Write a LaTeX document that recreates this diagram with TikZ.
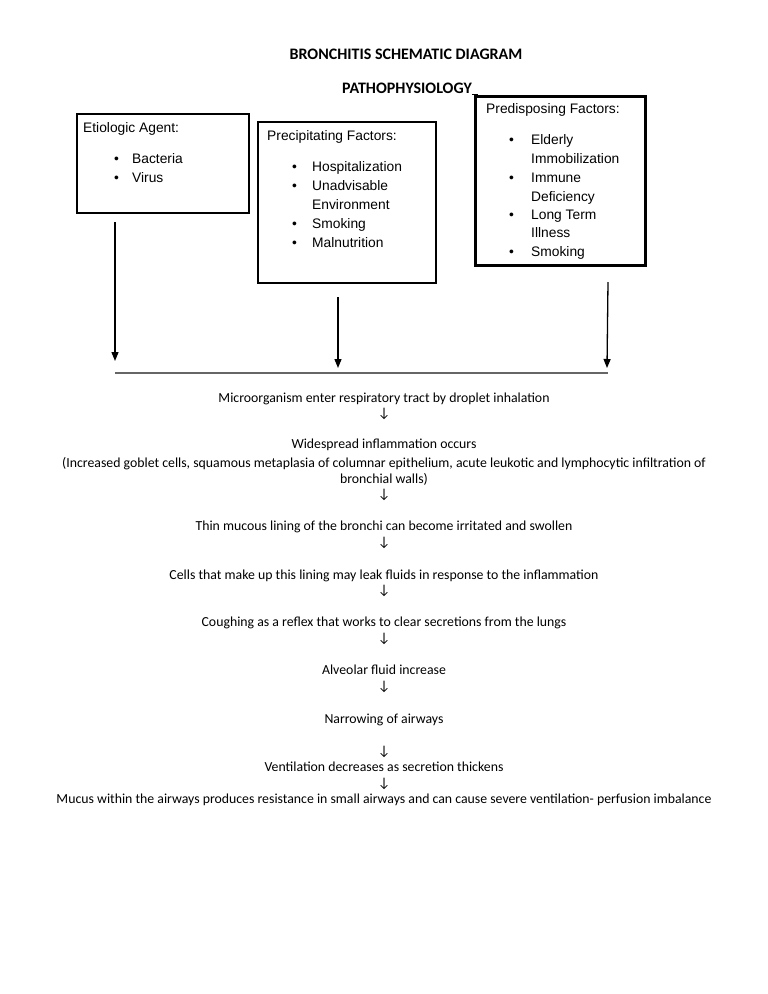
\documentclass[tikz,border=0pt]{standalone}
\usepackage{fontspec}
\setmainfont{Carlito}
\newfontfamily\arialf{Liberation Sans}
\usetikzlibrary{arrows.meta}
\begin{document}
\begin{tikzpicture}[x=1pt,y=-1pt,
  flow/.style={font=\fontsize{13.8}{16}\selectfont, anchor=base, inner sep=0pt},
  head/.style={font=\fontsize{16}{18}\selectfont\bfseries, anchor=base, inner sep=0pt},
  darr/.style={font=\fontsize{13.8}{16}\selectfont, anchor=base, inner sep=0pt},
  boxframe/.style={draw, line width=2pt, anchor=north west, inner sep=0pt},
  btxt/.style={font=\arialf\fontsize{13.8}{16}\selectfont, anchor=base west, inner sep=0pt},
  feed/.style={-{Triangle[length=9pt,width=7pt]}, line width=1.3pt},
  joinline/.style={line width=1.6pt, draw=black!60},
]
\useasboundingbox (0,0) rectangle (768,994);
\fill[white] (0,0) rectangle (768,994);

% titles
\node[head] (t1) at (406,59) {BRONCHITIS SCHEMATIC DIAGRAM};
\node[head] (t2) at (407,93) {PATHOPHYSIOLOGY};
\coordinate (u1) at (t2.base east);
\coordinate (u2) at (478,94);
\draw[line width=1pt] ([yshift=-1pt]u1) -- (u2);

% box 1
\node[boxframe, minimum width=172pt, minimum height=99pt] (b1) at (76,113) {};
\node[btxt] (b1h) at (83,132) {Etiologic Agent:};
\node[btxt] (b1p1) at (114,163) {\textbullet};
\node[btxt] (b1i1) at (132,163) {Bacteria};
\node[btxt] (b1p2) at (114,182) {\textbullet};
\node[btxt] (b1i2) at (132,182) {Virus};

% box 2
\node[boxframe, minimum width=178pt, minimum height=161pt] (b2) at (257,121) {};
\node[btxt] (b2h) at (267,140) {Precipitating Factors:};
\node[btxt] (b2p1) at (292,171) {\textbullet};
\node[btxt] (b2i1) at (312,171) {Hospitalization};
\node[btxt] (b2p2) at (292,190) {\textbullet};
\node[btxt] (b2i2) at (312,190) {Unadvisable};
\node[btxt] (b2i2b) at (312,209) {Environment};
\node[btxt] (b2p3) at (292,228) {\textbullet};
\node[btxt] (b2i3) at (312,228) {Smoking};
\node[btxt] (b2p4) at (292,247) {\textbullet};
\node[btxt] (b2i4) at (312,247) {Malnutrition};

% box 3
\node[boxframe, line width=2.6pt, minimum width=170pt, minimum height=169pt] (b3) at (474,95) {};
\node[btxt] (b3h) at (486,113) {Predisposing Factors:};
\node[btxt] (b3p1) at (509,144) {\textbullet};
\node[btxt] (b3i1) at (531,144) {Elderly};
\node[btxt] (b3i1b) at (531,163) {Immobilization};
\node[btxt] (b3p2) at (509,182) {\textbullet};
\node[btxt] (b3i2) at (531,182) {Immune};
\node[btxt] (b3i2b) at (531,201) {Deficiency};
\node[btxt] (b3p3) at (509,219) {\textbullet};
\node[btxt] (b3i3) at (531,219) {Long Term};
\node[btxt] (b3i3b) at (531,237) {Illness};
\node[btxt] (b3p4) at (509,256) {\textbullet};
\node[btxt] (b3i4) at (531,256) {Smoking};

% feeding arrows
\coordinate (a1s) at (115,222);
\coordinate (a1e) at (115,361);
\coordinate (a2s) at (338,297);
\coordinate (a2e) at (338,368);
\coordinate (a3s) at (608,282);
\coordinate (a3e) at (607,368);
\draw[feed] (a1s) -- (a1e);
\draw[feed] (a2s) -- (a2e);
\draw[feed] (a3s) -- (a3e);
\coordinate (h1) at (115,373);
\coordinate (h2) at (608,373);
\draw[joinline] (h1) -- (h2);

% flow
\node[flow] (f1) at (384,402) {Microorganism enter respiratory tract by droplet inhalation};
\node[darr] (d1) at (384,417) {↓};
\node[flow] (f2) at (384,448) {Widespread inflammation occurs};
\node[flow] (f2b) at (384,467) {(Increased goblet cells, squamous metaplasia of columnar epithelium, acute leukotic and lymphocytic infiltration of};
\node[flow] (f2c) at (384,483) {bronchial walls)};
\node[darr] (d2) at (384,498) {↓};
\node[flow] (f3) at (384,530) {Thin mucous lining of the bronchi can become irritated and swollen};
\node[darr] (d3) at (384,546) {↓};
\node[flow] (f4) at (384,579) {Cells that make up this lining may leak fluids in response to the inflammation};
\node[darr] (d4) at (384,594) {↓};
\node[flow] (f5) at (384,626) {Coughing as a reflex that works to clear secretions from the lungs};
\node[darr] (d5) at (384,642) {↓};
\node[flow] (f6) at (384,674) {Alveolar fluid increase};
\node[darr] (d6) at (384,690) {↓};
\node[flow] (f7) at (384,723) {Narrowing of airways};
\node[darr] (d7) at (384,755) {↓};
\node[flow] (f8) at (384,771) {Ventilation decreases as secretion thickens};
\node[darr] (d8) at (384,787) {↓};
\node[flow] (f9) at (384,803) {Mucus within the airways produces resistance in small airways and can cause severe ventilation- perfusion imbalance};
\end{tikzpicture}
\end{document}
